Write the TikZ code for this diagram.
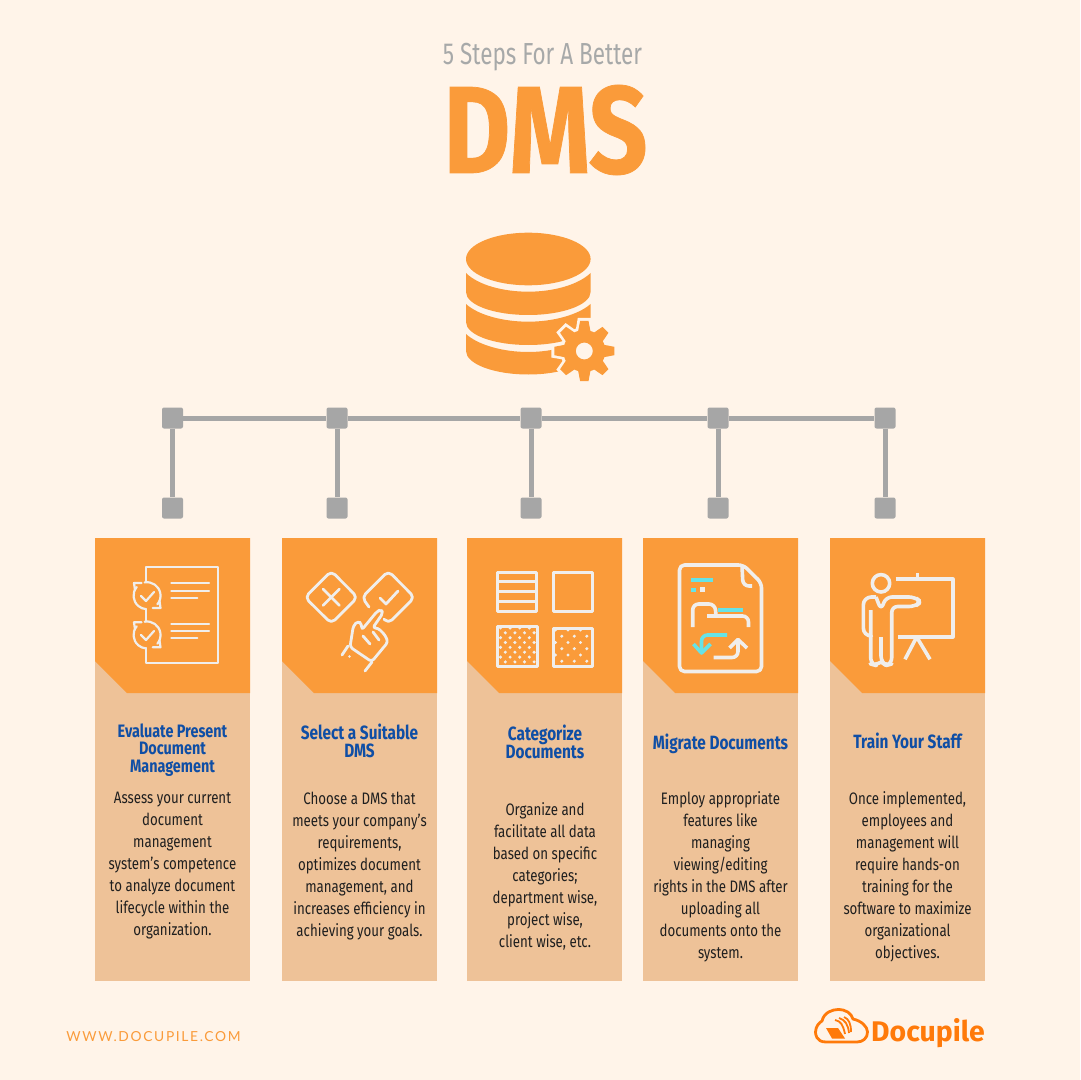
\documentclass[tikz,border=0pt]{standalone}
\usepackage{fontspec}
\usepackage{tikz}
\setmainfont[FakeStretch=0.8]{Fira Sans}
\newfontfamily\subfont[FakeStretch=0.74]{Fira Sans}
\newfontfamily\dmsfont[FakeStretch=0.83,FakeBold=0.6]{Fira Sans}
\newfontfamily\webfont[LetterSpace=12]{Lato}
\newfontfamily\logofont{Fira Sans}
\definecolor{cream}{HTML}{FFF4E9}
\definecolor{dmsorange}{HTML}{FA9B3A}
\definecolor{cardtan}{HTML}{EEC298}
\definecolor{headblue}{HTML}{0F4EA5}
\definecolor{railgray}{HTML}{A6A6A6}
\definecolor{titlegray}{HTML}{A7A9A9}
\definecolor{iconwhite}{HTML}{F0EEEC}
\definecolor{iconcyan}{HTML}{66E3E6}
\definecolor{logoorange}{HTML}{FF7A0A}
\begin{document}
\begin{tikzpicture}[x=0.5pt,y=0.5pt]
    \tikzstyle{every node}+=[inner sep=0pt]
    \tikzstyle{joint}=[fill=railgray,minimum size=10.5pt,rounded corners=1pt]
    \tikzstyle{rail}=[draw=railgray,line width=2.5pt]
    \tikzstyle{heading}=[align=center,text=headblue,font=\fontsize{9}{8.6}\selectfont\bfseries]
    \tikzstyle{big heading}=[align=center,text=headblue,font=\fontsize{9.6}{9}\selectfont\bfseries]
    \tikzstyle{bodytext}=[align=center,text=black!88,font=\fontsize{8.3}{11}\selectfont]
    \tikzstyle{icon}=[draw=iconwhite,line width=1.1pt,line cap=round,line join=round]
    \tikzstyle{thick icon}=[draw=iconwhite,line width=1.8pt,line cap=butt,line join=round]
    \tikzstyle{cyan icon}=[draw=iconcyan,line width=1.8pt,line join=round]
    \fill [cream] (0,0) rectangle (1080,-1080);
    \useasboundingbox (0,0) rectangle (1080,-1080);
    \node (subtitle) at (542.5,-57) [text=titlegray,font=\subfont\fontsize{15.2}{18}\selectfont] {5 Steps For A Better};
    \node (dmstitle) at (545.5,-130) [text=dmsorange,font=\dmsfont\fontsize{62}{70}\selectfont\bfseries] {DMS};
    % database
    \fill [dmsorange] (528.3,-259) ellipse (62.3 and 26.3);
    \fill [dmsorange] (466,-273) .. controls (478,-285) and (503,-291.7) .. (528.3,-291.7) .. controls (553,-291.7) and (578,-285) .. (590.6,-273) -- (590.6,-292) .. controls (590.6,-305) and (562,-315) .. (528.3,-315) .. controls (494,-315) and (466,-305) .. (466,-292) -- cycle;
    \fill [dmsorange] (466,-304) .. controls (478,-315) and (503,-321.7) .. (528.3,-321.7) .. controls (553,-321.7) and (578,-315) .. (590.6,-304) -- (590.6,-322) .. controls (590.6,-335) and (562,-345) .. (528.3,-345) .. controls (494,-345) and (466,-335) .. (466,-322) -- cycle;
    \fill [dmsorange] (466,-334) .. controls (478,-345) and (503,-352) .. (528.3,-352) .. controls (553,-352) and (578,-345) .. (590.6,-334) -- (590.6,-351) .. controls (590.6,-364) and (562,-374.5) .. (528.3,-374.5) .. controls (494,-374.5) and (466,-364) .. (466,-351) -- cycle;
    \foreach \a in {0,45,...,315} {
        \filldraw [cream,line width=3pt,shift={(584.3,-351)},rotate=\a] (-6,18) -- (-4,30) -- (4,30) -- (6,18) -- cycle;
    }
    \filldraw [cream,line width=3pt] (584.3,-351) circle (21);
    \foreach \a in {0,45,...,315} {
        \fill [dmsorange,shift={(584.3,-351)},rotate=\a] (-6.5,18) -- (-4.2,30) -- (4.2,30) -- (6.5,18) -- cycle;
    }
    \fill [dmsorange,even odd rule] (584.3,-351) circle (21) (584.3,-351) circle (8.5);
    % rail
    \node [joint] (topA) at (172.5,-418) {};
    \node [joint] (topB) at (337,-418) {};
    \node [joint] (topC) at (531,-418) {};
    \node [joint] (topD) at (718,-418) {};
    \node [joint] (topE) at (885,-418) {};
    \node [joint] (botA) at (172.5,-508) {};
    \node [joint] (botB) at (337,-508) {};
    \node [joint] (botC) at (531,-508) {};
    \node [joint] (botD) at (718,-508) {};
    \node [joint] (botE) at (885,-508) {};
    \draw [rail] (topA) -- (topB);
    \draw [rail] (topB) -- (topC);
    \draw [rail] (topC) -- (topD);
    \draw [rail] (topD) -- (topE);
    \draw [rail] (topA) -- (botA);
    \draw [rail] (topB) -- (botB);
    \draw [rail] (topC) -- (botC);
    \draw [rail] (topD) -- (botD);
    \draw [rail] (topE) -- (botE);
    % cards
    \foreach \x in {95,282,467,643,830} {
        \fill [cardtan] (\x,-538) rectangle (\x+155,-981);
        \fill [dmsorange] (\x,-538) -- (\x+155,-538) -- (\x+155,-693) -- (\x+32,-693) -- (\x,-661) -- cycle;
    }
    % first icon
    \draw [icon] (145.7,-582) -- (145.7,-567.3) -- (217.7,-567.3) -- (217.7,-663.3) -- (145.7,-663.3) -- (145.7,-648);
    \draw [icon] (145.7,-609) -- (145.7,-621);
    \draw [icon] (136.7,-587) arc (140:265:13.5);
    \draw [icon] (144.7,-582.4) arc (100:-40:13.5);
    \draw [icon] (136.7,-626.3) arc (140:265:13.5);
    \draw [icon] (144.7,-621.7) arc (100:-40:13.5);
    \draw [icon] (141.5,-583) -- (134,-583) -- (135,-590);
    \draw [icon] (152.7,-608) -- (160.5,-608) -- (159.5,-601);
    \draw [icon] (141.5,-622.3) -- (134,-622.3) -- (135,-629.3);
    \draw [icon] (152.7,-647.3) -- (160.5,-647.3) -- (159.5,-640.3);
    \draw [icon] (141,-596) -- (146,-601) -- (154,-592);
    \draw [icon] (141,-635) -- (146,-640) -- (154,-631);
    \draw [icon] (171.3,-583.3) -- (209,-583.3);
    \draw [icon] (171.3,-590.7) -- (209,-590.7);
    \draw [icon] (171.3,-598) -- (197.3,-598);
    \draw [icon] (171.3,-624) -- (209,-624);
    \draw [icon] (171.3,-631) -- (209,-631);
    \draw [icon] (171.3,-638) -- (197.3,-638);
    % second icon
    \draw [icon,line width=1.4pt,rounded corners=2.5pt] (331.3,-571) -- (357.5,-597.3) -- (331.3,-623.5) -- (305,-597.3) -- cycle;
    \draw [icon,line width=1.4pt] (323,-589) -- (339.5,-605.5);
    \draw [icon,line width=1.4pt] (339.5,-589) -- (323,-605.5);
    \draw [icon,line width=1.4pt,rounded corners=2.5pt] (369,-607) -- (362,-597.3) -- (388.3,-571) -- (414.5,-597.3) -- (388.3,-623.5) -- (384,-619);
    \draw [icon,line width=1.4pt] (380,-598) -- (386,-604) -- (398,-591);
    \draw [icon,line width=1.4pt,rounded corners=1.5pt] (350,-647) -- (353.3,-626) -- (358,-621) -- (361.7,-624) -- (361.7,-630) -- (377,-611.5) -- (381,-609.5) -- (383,-613) -- (372.7,-628) -- (378,-628) -- (385,-635) -- (388,-642) -- (371.7,-661.7) -- cycle;
    \draw [icon,line width=1.4pt] (342,-655) -- (348,-646);
    \draw [icon,line width=1.4pt] (365,-671) -- (372,-662);
    \draw [icon,line width=1.4pt] (363,-636) -- (370,-644);
    \draw [icon,line width=1.4pt] (373,-632) -- (379,-640);
    \fill [iconwhite] (349.5,-656.5) circle (1.3);
    % third icon
    \draw [thick icon,line width=1.5pt] (497.5,-572.5) rectangle (536.8,-611.2);
    \draw [thick icon,line width=1.5pt] (497.5,-581.7) -- (536.8,-581.7);
    \draw [thick icon,line width=1.5pt] (497.5,-591.7) -- (536.8,-591.7);
    \draw [thick icon,line width=1.5pt] (497.5,-601.7) -- (536.8,-601.7);
    \draw [thick icon,line width=1.5pt] (553.2,-572.5) rectangle (592.2,-611.2);
    \draw [thick icon,line width=1.5pt] (497.5,-626.5) rectangle (537.8,-666.2);
    \draw [thick icon,line width=1.5pt] (553.2,-628) rectangle (592.2,-666.2);
    \begin{scope}
        \clip (497.5,-626.5) rectangle (537.8,-666.2);
        \foreach \i in {0,...,3} {
            \foreach \j in {0,...,4} {
                \fill [iconwhite] (500.5+9.6*\j,-628-9.7*\i) circle (1.7);
                \fill [iconwhite] (505.3+9.6*\j,-632.8-9.7*\i) circle (1.7);
            }
        }
    \end{scope}
    \begin{scope}
        \clip (553.2,-628) rectangle (592.2,-666.2);
        \foreach \i in {0,...,2} {
            \foreach \j in {0,...,3} {
                \fill [iconwhite] (555.5+12.5*\j,-630-12.5*\i) circle (1.7);
                \fill [iconwhite] (561.8+12.5*\j,-636.2-12.5*\i) circle (1.7);
            }
        }
    \end{scope}
    % fourth icon
    \draw [thick icon,rounded corners=2.5pt] (743.3,-565) -- (679.5,-565) -- (679.5,-671.5) -- (761.5,-671.5) -- (761.5,-583) -- cycle;
    \draw [thick icon,rounded corners=3pt] (742,-566) -- (743,-586) -- (752,-586);
    \draw [cyan icon] (691,-580) -- (713.3,-580);
    \fill [iconcyan] (691,-587.5) rectangle (695.5,-592);
    \fill [iconwhite] (700,-587) rectangle (704.5,-591.5);
    \draw [thick icon,rounded corners=3pt] (692.7,-627) -- (692.7,-604) -- (715,-604) -- (716,-616);
    \draw [thick icon,rounded corners=3pt] (707,-616) -- (748.5,-616) -- (748.5,-627);
    \draw [cyan icon] (718,-610) -- (743,-610);
    \draw [cyan icon,rounded corners=3pt] (727,-635) -- (701.5,-635) -- (701.5,-652);
    \draw [cyan icon] (693.5,-644) -- (701.5,-653) -- (710.5,-644);
    \draw [thick icon,rounded corners=3pt] (713.5,-657.5) -- (738,-657.5) -- (738,-640);
    \draw [thick icon] (729.5,-648) -- (738,-639.5) -- (747,-648);
    % fifth icon
    \draw [icon,line width=1.8pt] (881,-583.3) circle (8.7);
    \draw [thick icon] (895.7,-579) -- (952.7,-579) -- (952.7,-636.7) -- (897.7,-636.7);
    \draw [thick icon] (917.3,-573.3) -- (917.3,-579);
    \draw [thick icon] (916.7,-637) -- (905,-659.3);
    \draw [thick icon] (916.7,-637) -- (930,-659.3);
    \draw [thick icon,rounded corners=3pt] (876,-597) -- (881,-610) -- (886,-597) -- (915,-597) -- (921,-602) -- (915,-606.5) -- (891.7,-606.5) -- (891.7,-664) -- (886,-665.5) -- (881,-662) -- (881,-637);
    \draw [thick icon,rounded corners=3pt] (881,-662) -- (876,-665.5) -- (870.7,-664) -- (870.7,-610);
    \draw [thick icon,rounded corners=4pt] (876,-597) -- (863.3,-597) -- (863.3,-636) -- (870.7,-636);
    % titles
    \node [heading] (headA) at (172.5,-750) {Evaluate Present\\Document\\Management};
    \node [big heading] (headB) at (359.5,-741) {Select a Suitable\\DMS};
    \node [big heading] (headC) at (545,-742) {Categorize\\Documents};
    \node [big heading] (headD) at (720.5,-744) {Migrate Documents};
    \node [big heading] (headE) at (907.5,-741) {Train Your Staff};
    % text
    \node [bodytext] (textA) at (172.5,-866) {Assess your current\\document\\management\\system’s competence\\to analyze document\\lifecycle within the\\organization.};
    \node [bodytext] (textB) at (359.5,-866) {Choose a DMS that\\meets your company’s\\requirements,\\optimizes document\\management, and\\increases efficiency in\\achieving your goals.};
    \node [bodytext] (textC) at (545,-876.5) {Organize and\\facilitate all data\\based on specific\\categories;\\department wise,\\project wise,\\client wise, etc.};
    \node [bodytext] (textD) at (720.5,-877) {Employ appropriate\\features like\\managing\\viewing/editing\\rights in the DMS after\\uploading all\\documents onto the\\system.};
    \node [bodytext] (textE) at (907.5,-877) {Once implemented,\\employees and\\management will\\require hands-on\\training for the\\software to maximize\\organizational\\objectives.};
    % footer
    \node (website) at (153.5,-1036.5) [text=dmsorange,font=\webfont\fontsize{6.9}{8}\selectfont] {WWW.DOCUPILE.COM};
    \node (logoname) at (928,-1033) [text=logoorange,font=\logofont\fontsize{14.2}{16}\selectfont\bfseries] {Docupile};
    \draw [logoorange,line width=1.4pt,line join=round] (826,-1042) .. controls (816,-1042) and (815.5,-1034) .. (815.5,-1032) .. controls (815.5,-1026) and (820,-1022) .. (822,-1021) .. controls (824,-1012) and (833,-1009.5) .. (838,-1009.5) .. controls (846,-1009.5) and (851,-1013) .. (853,-1019) .. controls (862,-1021) and (867.5,-1027) .. (867.5,-1032) .. controls (867.5,-1038) and (863,-1042) .. (857,-1042) -- cycle;
    \fill [logoorange] (826,-1028) -- (838,-1028) -- (845,-1038.5) -- (832,-1038.5) -- cycle;
    \draw [logoorange,line width=0.9pt] (835,-1020) .. controls (841,-1021) and (843,-1025) .. (845,-1034);
    \draw [logoorange,line width=0.9pt] (839,-1018) .. controls (845,-1020) and (848,-1024) .. (849,-1033);
    \draw [logoorange,line width=0.9pt] (844,-1017) .. controls (849,-1019) and (851,-1024) .. (851,-1032);
\end{tikzpicture}
\end{document}
